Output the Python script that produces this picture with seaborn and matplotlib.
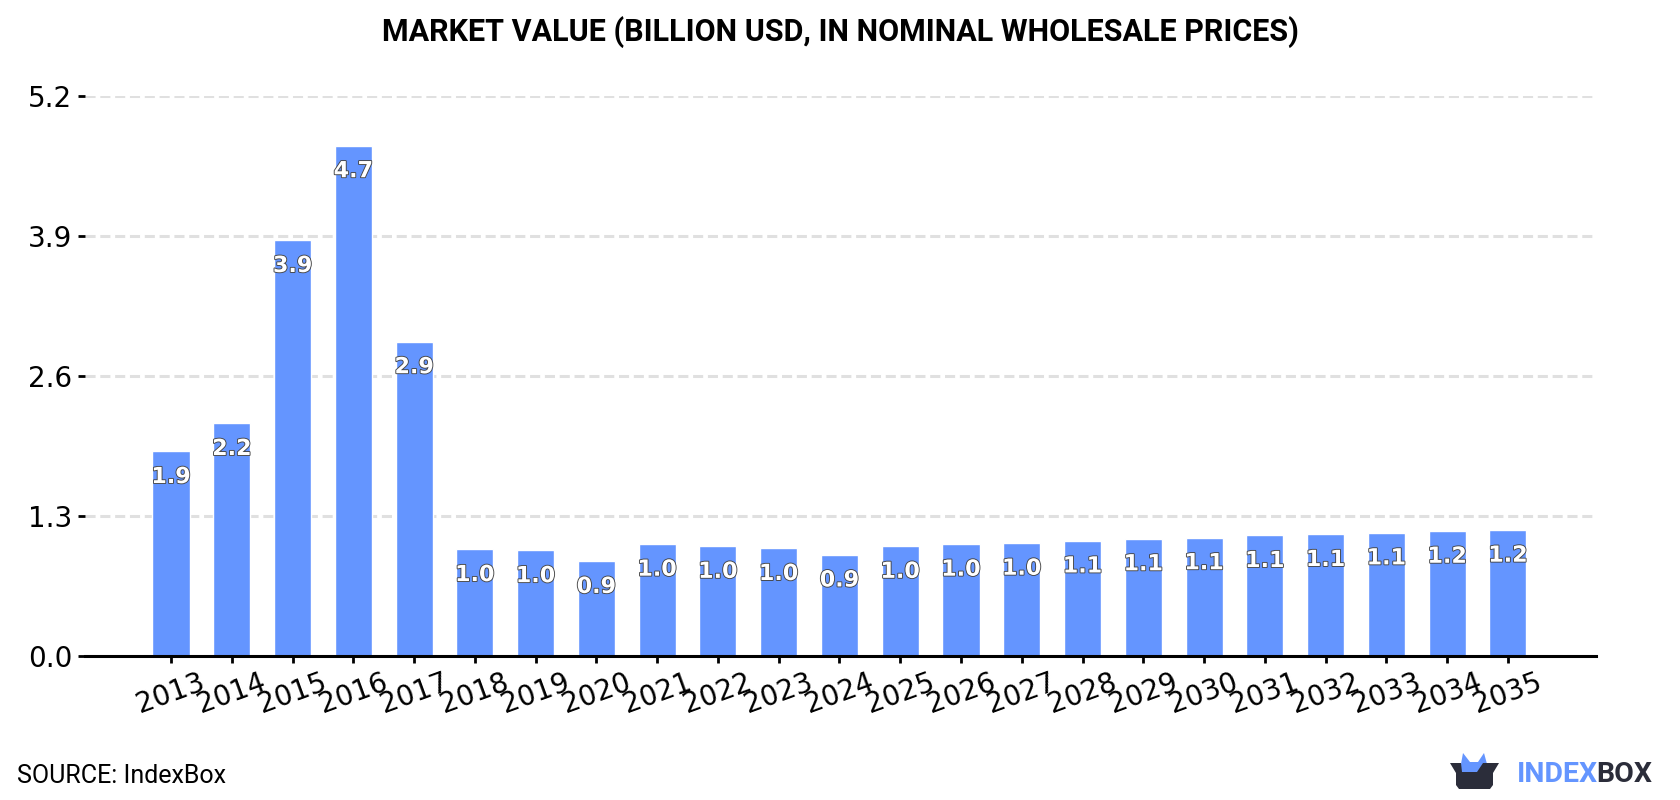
import matplotlib
matplotlib.use("Agg")
import matplotlib.pyplot as plt
import matplotlib.patheffects as pe
from matplotlib.patches import Polygon
import pandas as pd
import seaborn as sns

years = [str(y) for y in range(2013, 2036)]
market_value = [1.90, 2.16, 3.86, 4.74, 2.92, 0.99, 0.98, 0.88, 1.04, 1.02, 1.00, 0.94,
                1.02, 1.04, 1.049, 1.07, 1.09, 1.10, 1.12, 1.13, 1.145, 1.16, 1.17]
y_ticks = [0.0, 1.3, 2.6, 3.9, 5.2]
title = "MARKET VALUE (BILLION USD, IN NOMINAL WHOLESALE PRICES)"
source = "SOURCE: IndexBox"

BAR = "#6495ff"
DARK = "#2b2d3a"
W, H = 1680, 800

sns.set_theme(style="white")
plt.rcParams["font.family"] = ["DejaVu Sans"]

fig = plt.figure(figsize=(W / 100, H / 100), dpi=100, facecolor="white")
ax = fig.add_axes([85 / W, 1 - 656 / H, (1596 - 85) / W, (656 - 96) / H])

df = pd.DataFrame({"year": years, "value": market_value})
sns.barplot(data=df, x="year", y="value", color=BAR, saturation=1, width=0.61, ax=ax, zorder=3)

ax.set_xlim(-1.415, 23.45)
ax.set_ylim(0, 5.2)
ax.set_xlabel("")
ax.set_ylabel("")
ax.set_yticks(y_ticks, [f"{t:.1f}" for t in y_ticks])
ax.yaxis.grid(True, color="#e0e0e0", linestyle=(0, (3.3, 1.55)), linewidth=2.2, zorder=0)
ax.xaxis.grid(False)
for side in ("left", "right", "top"):
    ax.spines[side].set_visible(False)
ax.spines["bottom"].set_color("black")
ax.spines["bottom"].set_linewidth(2.2)
ax.spines["bottom"].set_zorder(5)
ax.tick_params(axis="y", length=5, width=2, color="black", labelsize=20, pad=4, left=True, labelcolor="black")
ax.tick_params(axis="x", length=5, width=2, color="black", labelsize=20, pad=4, bottom=True,
               labelrotation=20, labelcolor="black")

# Value labels sit just inside the top of each bar, white with a thin dark edge
outline = [pe.withStroke(linewidth=1.3, foreground="#444444")]
for i, v in enumerate(market_value):
    ax.annotate(f"{v:.1f}", (i, v), xytext=(0, -18.5), textcoords="offset points",
                ha="center", va="center", fontsize=16, fontweight="bold", color="white",
                path_effects=outline, zorder=6)

fig.text(0.5, 1 - 32 / H, title, ha="center", va="center", fontsize=22, fontweight="bold",
         family="Roboto", color="black")
fig.text(17 / W, 1 - 776 / H, source, ha="left", va="center", fontsize=18, family="Roboto", color="black")

# Brand mark in the lower right corner, placed in pixel space
logo = fig.add_axes([0, 0, 1, 1], facecolor="none")
logo.set_xlim(0, W)
logo.set_ylim(H, 0)
logo.axis("off")
logo.add_patch(Polygon([(1461, 764), (1463, 753), (1470, 762), (1478, 762), (1484, 753), (1487, 764),
                        (1478, 772), (1461, 772)], closed=True, color=BAR, lw=0))
logo.add_patch(Polygon([(1450, 763), (1461, 763), (1462, 772), (1477, 772), (1483, 763), (1499, 763),
                        (1493, 773), (1493, 785), (1490, 789), (1459, 789), (1456, 785), (1456, 773)],
                       closed=True, color=DARK, lw=0))
logo.text(1517, 774, "INDEX", ha="left", va="center", fontsize=20.5, fontweight="bold", family="Roboto", color=BAR)
logo.text(1596, 774, "BOX", ha="left", va="center", fontsize=20.5, fontweight="bold", family="Roboto", color=DARK)

fig.savefig("out.png", dpi=100)
